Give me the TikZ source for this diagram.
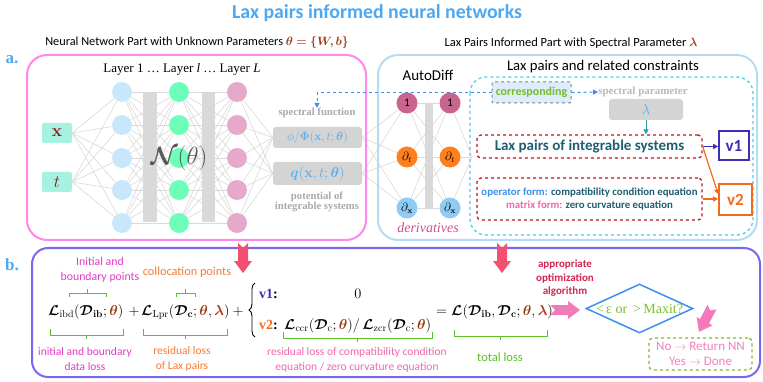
\documentclass[tikz,border=0pt]{standalone}
\usepackage[no-math]{fontspec}
\usepackage{amsmath,bm}
\setmainfont{Carlito}
\newfontfamily\serifA{Liberation Serif}
\usetikzlibrary{shapes.geometric,shapes.arrows,arrows.meta,calc,decorations.pathreplacing}
\definecolor{titleblue}{HTML}{4DA8F2}
\definecolor{pinkbox}{HTML}{FF88EA}
\definecolor{ltblue}{HTML}{B5DCF5}
\definecolor{cyanD}{HTML}{3FD0F5}
\definecolor{dred}{HTML}{C0141E}
\definecolor{tealT}{HTML}{1E5E70}
\definecolor{purp}{HTML}{3F2FB5}
\definecolor{orng}{HTML}{F26A1E}
\definecolor{bbox}{HTML}{7B66EE}
\definecolor{brgreen}{HTML}{5CBF2A}
\definecolor{mag}{HTML}{E03CC8}
\definecolor{olab}{HTML}{F57A32}
\definecolor{plab}{HTML}{F266A8}
\definecolor{crim}{HTML}{D42552}
\definecolor{thb}{HTML}{9A3A12}
\definecolor{lamc}{HTML}{B8321A}
\definecolor{phiblue}{HTML}{5AAFF0}
\definecolor{boxgray}{HTML}{D4D4D4}
\definecolor{inC}{HTML}{A6F2E2}
\definecolor{xred}{HTML}{8B1A1A}
\definecolor{nA}{HTML}{C9E7FA}
\definecolor{nB}{HTML}{6DFFBA}
\definecolor{nC}{HTML}{E6A9CA}
\definecolor{oneC}{HTML}{C8648E}
\definecolor{dtC}{HTML}{FF7F1F}
\definecolor{dxC}{HTML}{8ECCF5}
\definecolor{gtext}{HTML}{A9A9A9}
\definecolor{dashblue}{HTML}{3A8FEA}
\definecolor{corrfill}{HTML}{DCEEFB}
\definecolor{corrgreen}{HTML}{7CB82F}
\definecolor{diamC}{HTML}{3A90F0}
\definecolor{sgreen}{HTML}{7CC030}
\definecolor{darrow}{HTML}{F2506E}
\definecolor{parrow}{HTML}{F27AB8}
\definecolor{dashgreen}{HTML}{80B830}
\definecolor{nolab}{HTML}{F080C0}
\definecolor{derivC}{HTML}{D04E8A}
\definecolor{tealarrow}{HTML}{2A9DAA}
\newcommand\bL{\bm{\mathcal{L}}}
\newcommand\bD{\bm{\mathcal{D}}}
\newcommand\tth{\textcolor{thb}{\bm{\theta}}}
\newcommand\tla{\textcolor{lamc}{\bm{\lambda}}}
\pgfdeclarelayer{bg}\pgfdeclarelayer{mid}\pgfsetlayers{bg,mid,main}
\begin{document}
\begin{tikzpicture}[x=1pt,y=-1pt,
  lbl/.style={inner sep=0pt, align=center},
  nnline/.style={draw=gray!30, line width=0.6pt},
  neuron/.style={circle, minimum size=20pt, inner sep=0pt},
  adnode/.style={circle, minimum size=21pt, inner sep=0pt, font=\fontsize{11.5}{13}\selectfont},
  inbox/.style={rectangle, rounded corners=2pt, fill=inC, minimum width=30pt, minimum height=20pt, inner sep=0pt, text=xred},
  outbox/.style={rectangle, rounded corners=3pt, fill=boxgray, minimum width=89pt, inner sep=0pt, text=phiblue},
  redbox/.style={draw=dred, dashed, line width=1.3pt, rounded corners=4pt, inner sep=0pt, minimum width=225pt, text=tealT, align=center},
  vbox/.style={draw, line width=1.6pt, inner sep=0pt, font=\bfseries\fontsize{17}{19}\selectfont},
  ubrace/.style={draw=brgreen, line width=1pt},
  blockarr/.pic={\fill[pic actions] (0,-5) -- (18,-5) -- (18,-9) -- (30,0) -- (18,9) -- (18,5) -- (0,5) -- (5,0) -- cycle;},
  shortarr/.pic={\fill[pic actions] (0,-5) -- (16,-5) -- (16,-9) -- (28,0) -- (16,9) -- (16,5) -- (0,5) -- (4,0) -- cycle;}
]
\useasboundingbox (0,0) rectangle (763,382);
\newcommand\ubr[3]{\draw[ubrace] (#1,#3-6) -- (#1,#3) -- (#2,#3) -- (#2,#3-6); \draw[ubrace] ({(#1+#2)/2},#3) -- ({(#1+#2)/2},#3+4);}
\newcommand\obr[3]{\draw[ubrace] (#1,#3+4) -- (#1,#3) -- (#2,#3) -- (#2,#3+4); \draw[ubrace] ({(#1+#2)/2},#3) -- ({(#1+#2)/2},#3-4);}

% titles
\node[lbl, text=titleblue, font=\bfseries\fontsize{19.8}{22}\selectfont] (title) at (377,13) {Lax pairs informed neural networks};
\node[lbl, text=titleblue, font=\serifA\bfseries\fontsize{17}{19}\selectfont] (alab) at (12,60) {a.};
\node[lbl, text=titleblue, font=\serifA\bfseries\fontsize{17}{19}\selectfont] (blab) at (12,265) {b.};
\node[lbl, font=\fontsize{12.3}{14}\selectfont] (hdrA) at (197,43) {Neural Network Part with Unknown Parameters \textcolor{thb}{$\bm{\theta=\{W,b\}}$}};
\node[lbl, font=\fontsize{12.5}{14}\selectfont] (hdrB) at (571,43) {Lax Pairs Informed Part with Spectral Parameter \textcolor{lamc}{$\bm{\lambda}$}};

% frames
\draw[pinkbox, line width=2pt, rounded corners=20pt] (27,55) rectangle (366,240);
\draw[ltblue, line width=2pt, rounded corners=20pt] (378,55) rectangle (757,240);
\draw[cyanD, dashed, line width=1.3pt, rounded corners=16pt] (470,77) rectangle (753,235);
\draw[bbox, line width=2pt, rounded corners=16pt] (32,248) rectangle (760,377);

% neural network
\node[lbl, font=\serifA\fontsize{13}{15}\selectfont] (layers) at (182,69) {Layer 1 \dots\ Layer \textit{l} \dots\ Layer \textit{L}};
\node[inbox, font=\fontsize{16}{18}\selectfont] (inx) at (57,133) {$\mathbf{x}$};
\node[inbox, font=\fontsize{16}{18}\selectfont] (int) at (57,182) {$t$};
\foreach \i/\y in {1/92,2/125,3/158,4/190,5/223}{
  \node[neuron, fill=nA] (a\i) at (122,\y) {};
  \node[neuron, fill=nB] (b\i) at (179,\y) {};
  \node[neuron, fill=nC] (c\i) at (237,\y) {};
}
\node[outbox, minimum height=21pt, font=\fontsize{12}{14}\selectfont] (phi) at (317.5,137.5) {$\phi/\bm{\Phi}(\mathbf{x},t;\bm{\theta})$};
\node[outbox, minimum height=23pt, font=\fontsize{15}{17}\selectfont] (qq) at (317.5,173.5) {$\bm{q}(\mathbf{x},t;\bm{\theta})$};
\node[lbl, text=gtext, font=\serifA\bfseries\fontsize{10.7}{12}\selectfont] (sf) at (317,113) {spectral function};
\node[lbl, text=gtext, font=\serifA\bfseries\fontsize{10.7}{12}\selectfont] (pot) at (317,202) {potential of\\[-1.5pt]integrable systems};
\node[lbl, text=gray!70!black, font=\fontsize{23}{25}\selectfont] (Nth) at (179,158) {$\bm{\mathcal{N}}(\theta)$};

\begin{pgfonlayer}{bg}
  \foreach \i in {1,...,5}{
    \draw[nnline] (inx.east) -- (a\i);
    \draw[nnline] (int.east) -- (a\i);
    \draw[nnline] (c\i) -- (phi.west);
    \draw[nnline] (c\i) -- (qq.west);
    \foreach \j in {1,...,5}{
      \draw[nnline] (a\i) -- (b\j);
      \draw[nnline] (b\i) -- (c\j);
    }
  }
\end{pgfonlayer}
\begin{pgfonlayer}{mid}
  \fill[gray!30] (143,92) rectangle (157,222);
  \fill[gray!30] (202,92) rectangle (215,222);
  \fill[gray!30] (425,103) rectangle (433,208);
\end{pgfonlayer}

% AutoDiff
\node[lbl, font=\fontsize{15}{17}\selectfont] (adt) at (428,75) {AutoDiff};
\node[adnode, fill=oneC] (d1) at (407,103) {1};
\node[adnode, fill=dtC] (d2) at (407,157) {$\partial_t$};
\node[adnode, fill=dxC] (d3) at (407,208) {$\partial_{\mathbf{x}}$};
\node[adnode, fill=oneC] (e1) at (450,103) {1};
\node[adnode, fill=dtC] (e2) at (450,157) {$\partial_t$};
\node[adnode, fill=dxC] (e3) at (450,208) {$\partial_{\mathbf{x}}$};
\coordinate (adout) at (472,157);
\node[lbl, text=derivC, font=\serifA\itshape\fontsize{14}{16}\selectfont] (deriv) at (428,228) {derivatives};
\begin{pgfonlayer}{bg}
  \foreach \i in {1,2,3}{
    \draw[nnline] (phi.east) -- (d\i);
    \draw[nnline] (qq.east) -- (d\i);
    \draw[nnline] (e\i) -- (adout);
    \foreach \j in {1,2,3}{ \draw[nnline] (d\i) -- (e\j); }
  }
\end{pgfonlayer}

% Lax pairs part
\node[lbl, font=\fontsize{14.7}{16}\selectfont] (lpc) at (603,67) {Lax pairs and related constraints};
\node[rectangle, fill=corrfill, draw=gray, dashed, line width=1pt, rounded corners=1pt, minimum width=79pt, minimum height=21pt, inner sep=0pt, text=corrgreen, font=\bfseries\fontsize{12}{13}\selectfont] (corr) at (531.5,92.5) {corresponding};
\node[lbl, text=gtext!80!white, font=\serifA\bfseries\fontsize{11}{12}\selectfont] (spar) at (643,92) {spectral parameter};
\node[rectangle, rounded corners=3pt, fill=boxgray, minimum width=74pt, minimum height=21pt, inner sep=0pt, text=phiblue, font=\fontsize{14}{15}\selectfont] (lam) at (646,109.5) {$\lambda$};
\node[redbox, minimum height=23pt, font=\bfseries\fontsize{15}{17}\selectfont] (lax) at (589.5,146.5) {Lax pairs of integrable systems};
\node[redbox, minimum height=42pt, font=\bfseries\fontsize{10.8}{13}\selectfont] (cc) at (589.5,199) {\textcolor{dashblue}{operator form:} compatibility condition equation\\\textcolor{plab}{matrix form:} zero curvature equation};
\node[vbox, draw=purp, text=purp, minimum width=30pt, minimum height=29pt] (v1) at (734,145.5) {v1};
\node[vbox, draw=orng, text=orng, minimum width=33pt, minimum height=31pt] (v2) at (735.5,199.5) {v2};

\draw[dashblue, dashed, line width=1pt, -{Triangle[length=5pt,width=5pt]}] (corr.west) -| (sf.north);
\draw[dashblue, dashed, line width=1pt, -{Triangle[length=5pt,width=5pt]}] (corr.east) -- (spar.west);
\draw[tealarrow, line width=1pt, -{Triangle[length=5pt,width=5pt]}] (lam.south) -- (lam.south |- lax.north);
\draw[purp, line width=1.2pt, -{Triangle[length=5pt,width=5pt]}] (lax.east) -- (lax.east -| v1.west);
\draw[orng, line width=1.2pt, -{Triangle[length=5pt,width=5pt]}] (lax.east) -- (v2.163);
\draw[orng, line width=1.2pt, -{Triangle[length=5pt,width=5pt]}] (cc.east) -- (cc.east -| v2.west);

% part b
\pic[fill=darrow, rotate=-90] at (243,243) {blockarr};
\pic[fill=darrow, rotate=-90] at (502,243) {blockarr};

\node[lbl, text=mag, font=\fontsize{11.8}{15}\selectfont] (ibp) at (100,270) {Initial and\\boundary points};
\node[lbl, text=olab, font=\fontsize{12.3}{14}\selectfont] (colp) at (187,272) {collocation points};

\node[lbl, anchor=base west, font=\fontsize{14.6}{17}\selectfont] (L1) at (48,315) {$\bL_{\mathrm{ibd}}(\bD_{\mathbf{ib}};\tth)$};
\node[lbl, anchor=base, font=\fontsize{14.6}{17}\selectfont] (p1) at (134,315) {$+$};
\node[lbl, anchor=base west, font=\fontsize{14.6}{17}\selectfont] (L2) at (141,315) {$\bL_{\mathrm{Lpr}}(\bD_{\mathbf{c}};\tth,\tla)$};
\node[lbl, anchor=base, font=\fontsize{14.6}{17}\selectfont] (p2) at (238,315) {$+$};
\draw[decorate, decoration={brace, amplitude=6pt}, line width=0.9pt] (255,337) -- (255,283);
\node[lbl, anchor=base west, text=purp, font=\serifA\bfseries\fontsize{14}{16}\selectfont] (v1t) at (259,298) {v1\textcolor{black}{:}};
\node[lbl, anchor=base, font=\fontsize{14}{16}\selectfont] (zero) at (358,298) {$0$};
\node[lbl, anchor=base west, text=orng, font=\serifA\bfseries\fontsize{14}{16}\selectfont] (v2t) at (259,329) {v2\textcolor{black}{:}};
\node[lbl, anchor=base west, font=\fontsize{14}{16}\selectfont] (L3) at (284,329) {$\bL_{\mathrm{ccr}}(\bD_{\mathrm{c}};\tth)/\,\bL_{\mathrm{zcr}}(\bD_{\mathrm{c}};\tth)$};
\node[lbl, anchor=base west, font=\fontsize{14.5}{16}\selectfont] (L4) at (436,315) {$=\bL(\bD_{\mathbf{ib}},\bD_{\mathbf{c}};\tth,\tla)$};

\obr{69}{106}{293}
\obr{176}{195}{293}
\ubr{50}{123}{335}
\ubr{143}{227}{335}
\ubr{283}{432}{338}
\ubr{454}{547}{336}

\node[lbl, text=mag, font=\fontsize{11.5}{14.5}\selectfont] (ibl) at (85,359) {initial and boundary\\data loss};
\node[lbl, text=olab, font=\fontsize{11.5}{14.5}\selectfont] (rll) at (182,359) {residual loss\\of Lax pairs};
\node[lbl, text=plab, font=\fontsize{11.5}{15}\selectfont] (rcc) at (357,359.5) {residual loss of compatibility condition\\equation / zero curvature equation};
\node[lbl, text=brgreen, font=\fontsize{12.5}{14}\selectfont] (tl) at (500,357) {total loss};

\node[lbl, text=crim, font=\bfseries\fontsize{11}{13.5}\selectfont] (alg) at (565,278.5) {appropriate\\optimization\\algorithm};
\pic[fill=parrow] at (550,310) {blockarr};
\node[diamond, draw=diamC, line width=1.5pt, minimum width=107pt, minimum height=49pt, inner sep=0pt, aspect=2.2] (dia) at (639.5,308.5) {};
\node[lbl, text=sgreen, font=\serifA\fontsize{14}{15}\selectfont] (diat) at (dia.center) {<\,ε or \,>\,Maxit?};
\pic[fill=parrow, rotate=242.5] at (712,307) {shortarr};
\node[rectangle, draw=dashgreen, dashed, line width=1.3pt, rounded corners=4pt, minimum width=103pt, minimum height=32pt, inner sep=0pt, text=nolab, align=center, font=\fontsize{13}{15.5}\selectfont] (res) at (700.5,354) {No $\rightarrow$ Return NN\\Yes $\rightarrow$ Done};
\end{tikzpicture}
\end{document}
